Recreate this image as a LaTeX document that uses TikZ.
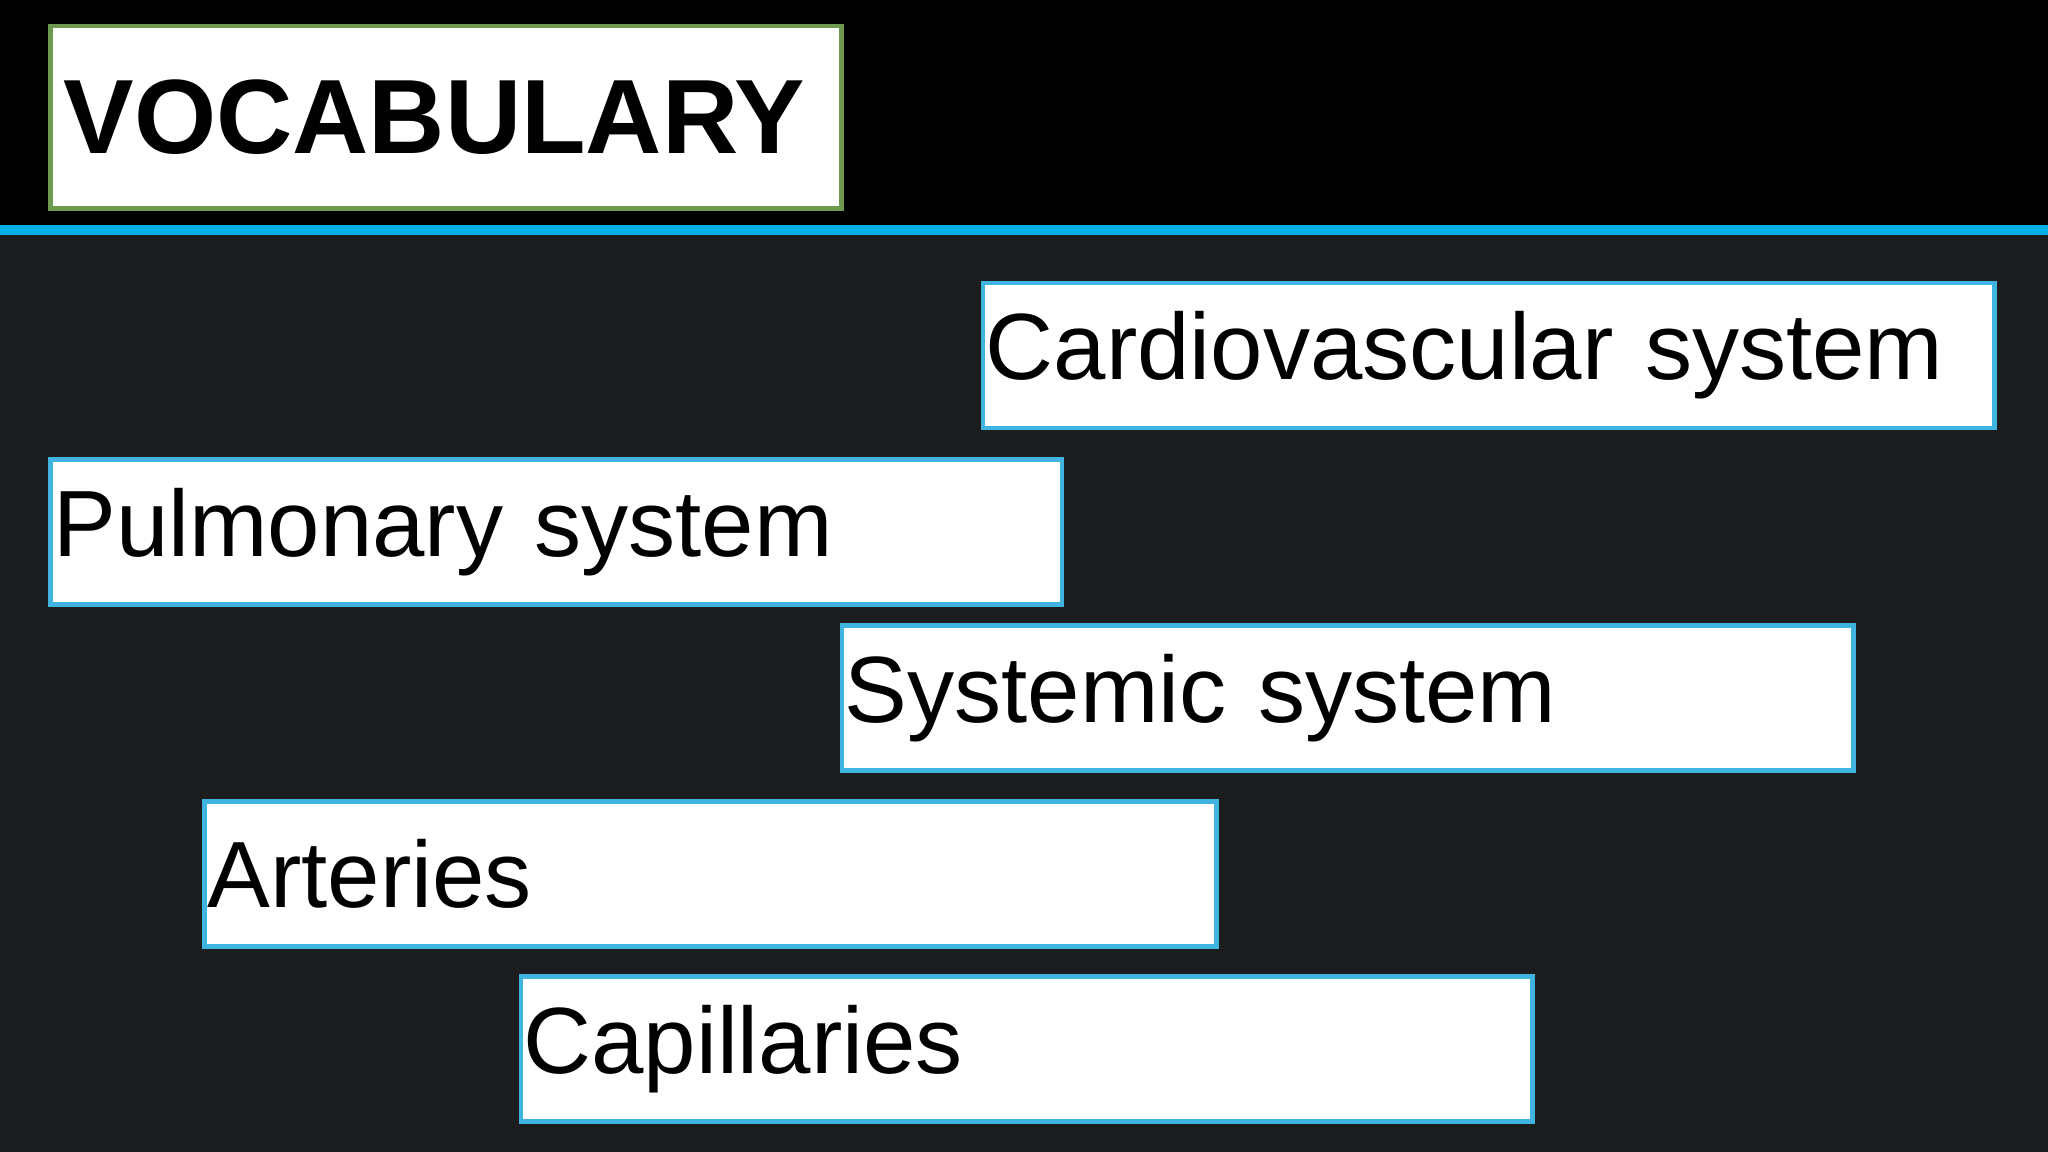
\documentclass[tikz,border=0pt]{standalone}
\usepackage{fontspec}
\setmainfont{Liberation Sans}
\definecolor{bg}{HTML}{1C1D1F}
\definecolor{bluel}{HTML}{00B0E8}
\definecolor{boxb}{HTML}{3FB4E0}
\definecolor{grn}{HTML}{6E9A50}
\begin{document}
\begin{tikzpicture}[x=0.01cm,y=-0.01cm,
  term/.style={draw=boxb,line width=1pt,fill=white,minimum width=7.74cm,minimum height=1.11cm,anchor=north west,text width=7.5cm,align=left,inner sep=0pt,font=\fontsize{20.5pt}{24pt}\selectfont},
  ]
\useasboundingbox (0,0) rectangle (1568,882);
\fill[bg] (0,0) rectangle (1568,882);
\fill[black] (0,0) rectangle (1568,172);
\fill[bluel] (0,172) rectangle (1568,180);
\node[draw=grn,line width=1pt,fill=white,anchor=north west,minimum width=6.05cm,minimum height=1.40cm,text width=5.85cm,align=left,inner sep=0pt,font=\fontsize{23pt}{27pt}\selectfont\bfseries] (voc) at (37,18) {VOCABULARY};
\node[term] (cardio) at (751,215) {\hspace*{-0.1cm}Cardiovascular system};
\node[term] (pulm) at (37,350) {\hspace*{-0.1cm}Pulmonary system};
\node[term] (syst) at (643,477) {\hspace*{-0.1cm}Systemic system};
\node[term] (art) at (155,612) {\hspace*{-0.1cm}Arteries};
\node[term] (cap) at (397,746) {\hspace*{-0.1cm}Capillaries};
\end{tikzpicture}
\end{document}
